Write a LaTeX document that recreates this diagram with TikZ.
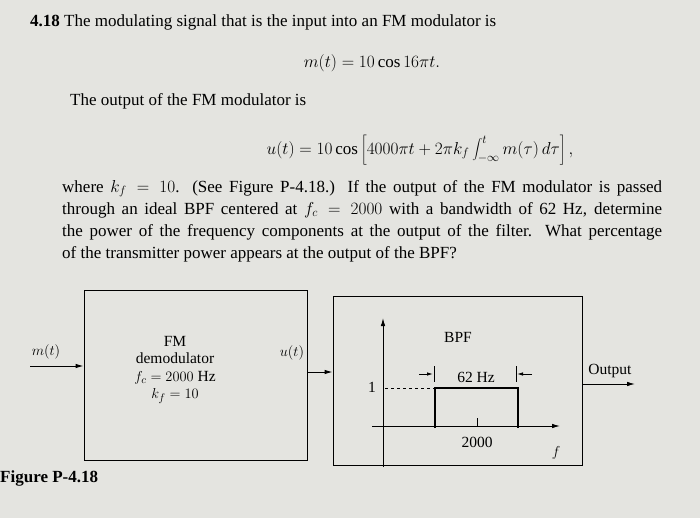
\documentclass[tikz,border=0pt]{standalone}
\usepackage{fontspec}
\setmainfont{Liberation Serif}
\usetikzlibrary{arrows.meta}
\begin{document}
\begin{tikzpicture}[x=1pt,y=-1pt,
  txt/.style={font=\fontsize{17}{22}\selectfont, inner sep=0pt},
  small/.style={font=\fontsize{15.5}{17.5}\selectfont, inner sep=0pt, align=center},
  ln/.style={line width=0.9pt},
  arr/.style={ln,-{Latex[length=8pt,width=4.5pt]}},
  blk/.style={draw, line width=0.9pt, fill=none}]
\fill[fill={rgb,255:red,228;green,228;blue,224}] (0,0) rectangle (700,518);
\useasboundingbox (0,0) rectangle (700,518);
\node[txt,anchor=west] (t1) at (30,22) {\textbf{4.18}\ The modulating signal that is the input into an FM modulator is};
\node[txt] (e1) at (372,63) {$m(t) = 10\cos 16\pi t.$};
\node[txt,anchor=west] (t2) at (70,101) {The output of the FM modulator is};
\node[txt] (e2) at (420,150) {$\displaystyle u(t) = 10\cos\left[4000\pi t + 2\pi k_f\int_{-\infty}^{t} m(\tau)\,d\tau\right],$};
\node[txt,anchor=north west,text width=600pt,align=justify] (p) at (62,180) {where $k_f = 10$. (See Figure P-4.18.) If the output of the FM modulator is passed\linebreak through an ideal BPF centered at $f_c = 2000$ with a bandwidth of 62 Hz, determine\linebreak the power of the frequency components at the output of the filter. What percentage\linebreak of the transmitter power appears at the output of the BPF?};
% left block
\node[blk,minimum width=223pt,minimum height=170pt] (fm) at (195.5,375) {};
\node[small] (fmt) at (175,370) {FM\\demodulator\\$f_c = 2000$ Hz\\$k_f = 10$};
\coordinate (min) at (30,366);
\node[small] at (46,352) {$m(t)$};
\draw[arr] (min) -- (min -| fm.west);
% right block
\node[blk,minimum width=249pt,minimum height=169pt] (bpf) at (457.5,380.5) {};
\draw[arr] (fm.east |- 0,372) -- (bpf.west |- 0,372);
\node[small] at (292,353) {$u(t)$};
\coordinate (out) at (635,384);
\draw[arr] (bpf.east |- out) -- (out);
\node[small] at (610,371) {Output};
% axes
\draw[arr] (383,467) -- (383,318);
\draw[arr] (372,426) -- (560,426);
\draw[line width=1.4pt] (435,428) -- (435,388) -- (518,388) -- (518,428);
\draw[ln] (477,418) -- (477,426);
\draw[ln,dashed] (385,388) -- (435,388);
\node[small] at (372,387) {1};
\node[small] at (477,442) {2000};
\node[small] at (556,453) {$f$};
\node[small] at (458,337) {BPF};
\node[small] at (476,377) {62 Hz};
\draw[ln] (434,366) -- (434,382);
\draw[ln] (516,366) -- (516,382);
\draw[ln,-{Latex[length=6pt,width=3.5pt]}] (419,374) -- (433,374);
\draw[ln,-{Latex[length=6pt,width=3.5pt]}] (532,374) -- (517,374);
\node[txt,anchor=west] (cap) at (0,478) {\textbf{Figure P-4.18}};
\end{tikzpicture}
\end{document}
